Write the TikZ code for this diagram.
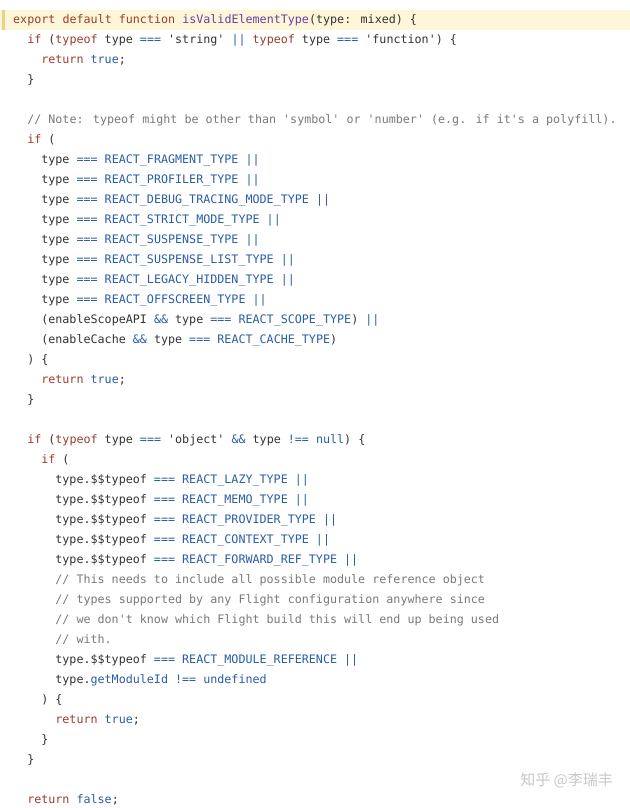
\documentclass[tikz,border=0pt]{standalone}
\usepackage{fontspec}
\newfontfamily\code{DejaVu Sans Mono}
\newfontfamily\cjk{Noto Sans CJK SC}
\definecolor{kw}{HTML}{9B3D2E}
\definecolor{fn}{HTML}{6B3FA0}
\definecolor{bl}{HTML}{2A5DA8}
\definecolor{cm}{HTML}{7A7A7A}
\definecolor{tx}{HTML}{333333}
\newcommand\K[1]{\textcolor{kw}{#1}}
\newcommand\F[1]{\textcolor{fn}{#1}}
\newcommand\B[1]{\textcolor{bl}{#1}}
\newcommand\Cm[1]{\textcolor{cm}{#1}}
\newcommand\codeline[3]{\node[codetext] (l#2) at ({13+#1*7.03},{808-#2*20-4}) {#3};}
\tikzset{codetext/.style={anchor=base west,inner sep=0pt,text=tx,font=\code\fontsize{11.7bp}{14bp}\selectfont}}
\begin{document}
\begin{tikzpicture}[x=1bp,y=1bp]
\useasboundingbox (0,0) rectangle (630,808);
\fill[white] (0,0) rectangle (630,808);
\fill[fill={rgb,255:red,253;green,246;blue,216}] (0,778) rectangle (630,798);
\fill[fill={rgb,255:red,232;green,211;blue,138}] (2,778) rectangle (5,798);
\codeline{0}{1}{\K{export default function} \F{isValidElementType}(type: mixed) \{}
\codeline{2}{2}{\K{if} (\K{typeof} type \B{===} 'string' \B{||} \K{typeof} type \B{===} 'function') \{}
\codeline{4}{3}{\K{return} \B{true};}
\codeline{2}{4}{\}}
\codeline{2}{6}{\Cm{// Note: typeof might be other than 'symbol' or 'number' (e.g. if it's a polyfill).}}
\codeline{2}{7}{\K{if} (}
\codeline{4}{8}{type \B{=== REACT\_FRAGMENT\_TYPE ||}}
\codeline{4}{9}{type \B{=== REACT\_PROFILER\_TYPE ||}}
\codeline{4}{10}{type \B{=== REACT\_DEBUG\_TRACING\_MODE\_TYPE ||}}
\codeline{4}{11}{type \B{=== REACT\_STRICT\_MODE\_TYPE ||}}
\codeline{4}{12}{type \B{=== REACT\_SUSPENSE\_TYPE ||}}
\codeline{4}{13}{type \B{=== REACT\_SUSPENSE\_LIST\_TYPE ||}}
\codeline{4}{14}{type \B{=== REACT\_LEGACY\_HIDDEN\_TYPE ||}}
\codeline{4}{15}{type \B{=== REACT\_OFFSCREEN\_TYPE ||}}
\codeline{4}{16}{(enableScopeAPI \B{\&\&} type \B{=== REACT\_SCOPE\_TYPE}) \B{||}}
\codeline{4}{17}{(enableCache \B{\&\&} type \B{=== REACT\_CACHE\_TYPE})}
\codeline{2}{18}{) \{}
\codeline{4}{19}{\K{return} \B{true};}
\codeline{2}{20}{\}}
\codeline{2}{22}{\K{if} (\K{typeof} type \B{===} 'object' \B{\&\&} type \B{!==} \B{null}) \{}
\codeline{4}{23}{\K{if} (}
\codeline{6}{24}{type.\$\$typeof \B{=== REACT\_LAZY\_TYPE ||}}
\codeline{6}{25}{type.\$\$typeof \B{=== REACT\_MEMO\_TYPE ||}}
\codeline{6}{26}{type.\$\$typeof \B{=== REACT\_PROVIDER\_TYPE ||}}
\codeline{6}{27}{type.\$\$typeof \B{=== REACT\_CONTEXT\_TYPE ||}}
\codeline{6}{28}{type.\$\$typeof \B{=== REACT\_FORWARD\_REF\_TYPE ||}}
\codeline{6}{29}{\Cm{// This needs to include all possible module reference object}}
\codeline{6}{30}{\Cm{// types supported by any Flight configuration anywhere since}}
\codeline{6}{31}{\Cm{// we don't know which Flight build this will end up being used}}
\codeline{6}{32}{\Cm{// with.}}
\codeline{6}{33}{type.\$\$typeof \B{=== REACT\_MODULE\_REFERENCE ||}}
\codeline{6}{34}{type.\B{getModuleId !== undefined}}
\codeline{4}{35}{) \{}
\codeline{6}{36}{\K{return} \B{true};}
\codeline{4}{37}{\}}
\codeline{2}{38}{\}}
\codeline{2}{40}{\K{return} \B{false};}
\node[anchor=base east,inner sep=0pt,text={rgb,255:red,200;green,200;blue,200},font=\cjk\fontsize{15bp}{18bp}\selectfont] (wm) at (613,22) {知乎 @李瑞丰};
\end{tikzpicture}
\end{document}
